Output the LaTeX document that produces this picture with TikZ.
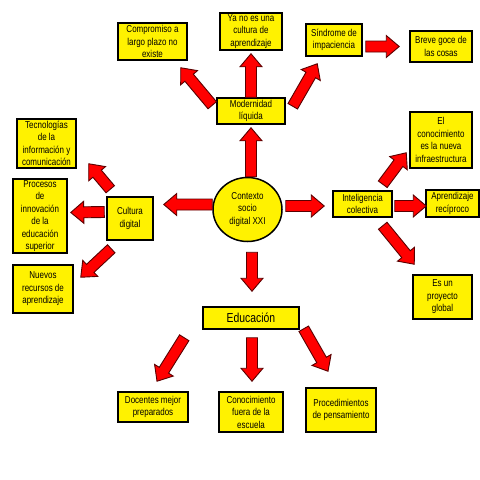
\documentclass[tikz,border=0pt]{standalone}
\usepackage{fontspec}
\setmainfont{Liberation Sans}[FakeStretch=0.8]
\usetikzlibrary{calc, shapes, positioning}
\tikzset{
	box/.style = {draw, line width = 1.5pt, fill = yellow, align = center, inner sep = 0pt, font = \fontsize{10}{12.5}\selectfont},
	blk/.style = {draw = red!35!black, line width = 0.9pt, fill = red, line join = miter},
}
% block arrow from #1 to #2 (tip)
\newcommand{\blockarrow}[2]{%
	\coordinate (ba-s) at #1;
	\coordinate (ba-e) at #2;
	\coordinate (ba-h) at ($(ba-e)!13pt!(ba-s)$);
	\draw [blk] ($(ba-s)!5.5pt!90:(ba-e)$) -- ($(ba-h)!5.5pt!90:(ba-e)$) -- ($(ba-h)!11pt!90:(ba-e)$) -- (ba-e)
		-- ($(ba-h)!11pt!-90:(ba-e)$) -- ($(ba-h)!5.5pt!-90:(ba-e)$) -- ($(ba-s)!5.5pt!-90:(ba-e)$) -- cycle;
}
\begin{document}
\begin{tikzpicture}[x = 1pt, y = -1pt]
		\useasboundingbox [fill = white] (0, 0) rectangle (480, 480);

		% centre
		\node [box, ellipse, minimum width = 69pt, minimum height = 64pt] (ctx) at (247.5, 209.5) {Contexto\\socio\\digital XXI};

		% top
		\node [box, minimum width = 68pt, minimum height = 26pt] (mod) at (251, 111) {Modernidad\\líquida};
		\node [box, minimum width = 69pt, minimum height = 37pt] (cmp) at (152.5, 41.5) {Compromiso a\\largo plazo no\\existe};
		\node [box, minimum width = 62pt, minimum height = 37pt] (cult) at (251, 31.5) {Ya no es una\\cultura de\\aprendizaje};
		\node [box, minimum width = 56pt, minimum height = 32pt] (sind) at (334, 40) {Síndrome de\\impaciencia};
		\node [box, minimum width = 62pt, minimum height = 31pt] (goce) at (441, 46.5) {Breve goce de\\las cosas};

		% left
		\node [box, minimum width = 46pt, minimum height = 43pt] (cdig) at (130, 218.5) {Cultura\\digital};
		\node [box, minimum width = 59pt, minimum height = 49pt] (tic) at (46.5, 143.5) {Tecnologías\\de la\\información y\\comunicación};
		\node [box, minimum width = 54pt, minimum height = 74pt] (proc) at (40, 216) {Procesos\\de\\innovación\\de la\\educación\\superior};
		\node [box, minimum width = 60pt, minimum height = 48pt] (nuev) at (43, 289) {Nuevos\\recursos de\\aprendizaje};

		% right
		\node [box, minimum width = 59pt, minimum height = 26pt] (intel) at (362.5, 204) {Inteligencia\\colectiva};
		\node [box, minimum width = 62pt, minimum height = 56pt] (conoc) at (441, 140) {El\\conocimiento\\es la nueva\\infraestructura};
		\node [box, minimum width = 53pt, minimum height = 27pt] (apr) at (452.5, 203.5) {Aprendizaje\\recíproco};
		\node [box, minimum width = 59pt, minimum height = 44pt] (glob) at (442.5, 297) {Es un\\proyecto\\global};

		% bottom
		\node [box, minimum width = 96pt, minimum height = 22pt, font = \fontsize{13}{15}\selectfont] (edu) at (251, 318) {Educación};
		\node [box, minimum width = 70pt, minimum height = 30pt] (doc) at (153, 407) {Docentes mejor\\preparados};
		\node [box, minimum width = 64pt, minimum height = 40pt] (fuera) at (251, 412) {Conocimiento\\fuera de la\\escuela};
		\node [box, minimum width = 70pt, minimum height = 44pt] (pens) at (341, 410) {Procedimientos\\de pensamiento};

		% arrows
		\blockarrow{($(ctx.north)+(3.5,0)$)}{($(mod.south)+(0,3)$)}
		\blockarrow{(mod.north)}{($(cult.south)+(0,3)$)}
		\blockarrow{($(mod.north west)+(-4,8)$)}{($(cmp.south east)+(-7,7)$)}
		\blockarrow{($(mod.north east)+(7,9)$)}{($(sind.south west)+(12,7)$)}
		\blockarrow{($(sind.east)+(3,6.5)$)}{($(goce.west)+(-10,0)$)}

		\blockarrow{($(ctx.west)+(0,-5)$)}{($(cdig.east)+(10,-14)$)}
		\blockarrow{($(cdig.north west)+(4,-7)$)}{($(tic.south east)+(12,-5)$)}
		\blockarrow{($(cdig.west)+(-2,-6.5)$)}{($(proc.east)+(3,-3.5)$)}
		\blockarrow{($(cdig.south west)+(5,8)$)}{($(nuev.north east)+(7,13)$)}

		\blockarrow{($(ctx.east)+(3,-3.5)$)}{($(intel.west)+(-8,2)$)}
		\blockarrow{($(intel.north east)+(-10,-6)$)}{($(conoc.south west)+(-3,-16)$)}
		\blockarrow{($(intel.east)+(2,2)$)}{($(apr.west)+(1,2.5)$)}
		\blockarrow{($(intel.south east)+(-10,8)$)}{($(glob.north west)+(2,-10)$)}

		\blockarrow{($(ctx.south)+(4.5,10)$)}{($(edu.north)+(1,-15)$)}
		\blockarrow{($(edu.south west)+(-18,8)$)}{($(doc.north)+(4,-10)$)}
		\blockarrow{($(edu.south)+(1,8)$)}{($(fuera.north)+(1,-10)$)}
		\blockarrow{($(edu.south east)+(4,-1)$)}{($(pens.north)+(-13,-16)$)}
	\end{tikzpicture}
\end{document}
